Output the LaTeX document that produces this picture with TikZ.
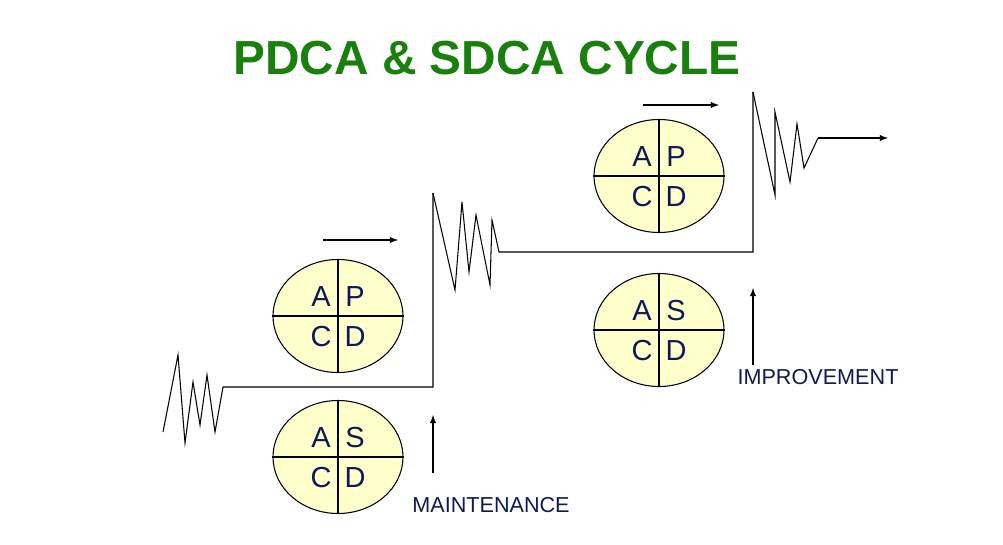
\documentclass[tikz,border=0pt]{standalone}
\usepackage{fontspec}
\setmainfont{Liberation Sans}
\usetikzlibrary{shapes.geometric}
\definecolor{cyclefill}{rgb}{1.000000, 1.000000, 0.800000}
\definecolor{lettercolor}{rgb}{0.050000, 0.100000, 0.350000}
\definecolor{titlecolor}{rgb}{0.100000, 0.500000, 0.050000}
\tikzset{
  wheel/.style={ellipse, draw=black, fill=cyclefill, line width=0.6pt,
    minimum width=130\du, minimum height=113\du, inner sep=0pt},
  quad/.style={text=lettercolor, font=\fontsize{16.5}{16.5}\selectfont},
  caption/.style={text=lettercolor, font=\fontsize{12.3}{12.3}\selectfont},
  path/.style={line width=0.6pt},
}
\newlength{\du}
\setlength{\du}{0.02cm}
\newcommand{\wheelquads}[5]{%
\draw[line width=0.6pt] (#1.north)--(#1.south);
\draw[line width=0.6pt] (#1.west)--(#1.east);
\node[quad] (#1-a) at ([xshift=-17\du,yshift=19\du]#1.center){#2};
\node[quad] (#1-b) at ([xshift=17\du,yshift=19\du]#1.center){#3};
\node[quad] (#1-c) at ([xshift=-17\du,yshift=-21\du]#1.center){#4};
\node[quad] (#1-d) at ([xshift=17\du,yshift=-21\du]#1.center){#5};
}
\begin{document}
\begin{tikzpicture}[x=\du,y=-\du]
\useasboundingbox (0,0) rectangle (1003,544);
% title
\node[text=titlecolor, font=\bfseries\fontsize{27.2}{27.2}\selectfont] (title) at (487,58){PDCA \& SDCA CYCLE};
% wheels
\node[wheel] (pdcaone) at (338,316){};
\wheelquads{pdcaone}{A}{P}{C}{D}
\node[wheel] (sdcaone) at (338,457){};
\wheelquads{sdcaone}{A}{S}{C}{D}
\node[wheel] (pdcatwo) at (659,176){};
\wheelquads{pdcatwo}{A}{P}{C}{D}
\node[wheel] (sdcatwo) at (659,330){};
\wheelquads{sdcatwo}{A}{S}{C}{D}
% step points
\coordinate (lowend) at (223,387);
\coordinate (stepone) at (433,387);
\coordinate (topone) at (433,193);
\coordinate (midstart) at (499,252);
\coordinate (steptwo) at (753,252);
\coordinate (toptwo) at (753,92);
\coordinate (highstart) at (818,138);
\coordinate (highend) at (888,138);
% left zigzag and first step
\draw[path] (163,432)--(178,355)--(185,443)--(193,382)--(200,425)--(207,375)--(215,432)--(lowend)--(stepone)--(topone);
% middle zigzag and second step
\draw[path] (topone)--(455,290)--(462,202)--(469,272)--(476,215)--(490,285)--(492,220)--(midstart)--(steptwo)--(toptwo);
% top zigzag
\draw[path] (toptwo)--(775,195)--(775,112)--(790,182)--(797,124)--(804,168)--(highstart);
\draw[path,-latex] (highstart)--(highend);
% direction arrows
\coordinate (pone) at (323,240);
\coordinate (ponet) at (398,240);
\draw[path,-latex] (pone)--(ponet);
\coordinate (ptwo) at (643,105);
\coordinate (ptwot) at (719,105);
\draw[path,-latex] (ptwo)--(ptwot);
% upward arrows and captions
\coordinate (mfoot) at (433,473);
\coordinate (mhead) at (433,415);
\draw[path,-latex] (mfoot)--(mhead);
\node[caption] (maint) at (491,505){MAINTENANCE};
\coordinate (ifoot) at (753,365);
\coordinate (ihead) at (753,288);
\draw[path,-latex] (ifoot)--(ihead);
\node[caption] (impr) at (818,377){IMPROVEMENT};
\end{tikzpicture}
\end{document}
